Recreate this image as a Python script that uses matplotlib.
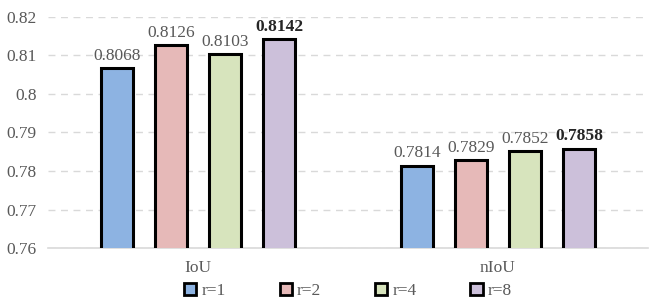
import matplotlib.pyplot as plt
import numpy as np
from matplotlib.patches import Patch

plt.rcParams['font.family'] = ['Liberation Serif', 'DejaVu Serif']

# data
categories = ['IoU', 'nIoU']
series = ['r=1', 'r=2', 'r=4', 'r=8']
values = {
    'r=1': [0.8068, 0.7814],
    'r=2': [0.8126, 0.7829],
    'r=4': [0.8103, 0.7852],
    'r=8': [0.8142, 0.7858],
}
colors = ['#8db3e2', '#e6b9b8', '#d7e4bd', '#ccc0da']
yticks = [0.76, 0.77, 0.78, 0.79, 0.80, 0.81, 0.82]
ytick_labels = ['0.76', '0.77', '0.78', '0.79', '0.8', '0.81', '0.82']

text_color = '#595959'
fs = 12.5

fig = plt.figure(figsize=(6.51, 3.08), dpi=100)
ax = fig.add_axes([48 / 651, 60 / 308, 600 / 651, 231 / 308])

x = np.arange(len(categories))
step = 0.18
width = 0.105
for i, s in enumerate(series):
    pos = x + (i - 1.5) * step
    ax.bar(pos, values[s], width, bottom=0, color=colors[i],
           edgecolor='black', linewidth=2.2, zorder=3)
    for p, v in zip(pos, values[s]):
        ax.text(p, v + 0.0011, f'{v:.4f}', ha='center', va='bottom',
                fontsize=fs, color='#262626' if s == 'r=8' else text_color,
                fontweight='bold' if s == 'r=8' else 'normal')

ax.set_xlim(-0.5, 1.5)
ax.set_ylim(0.76, 0.82)
ax.set_yticks(yticks)
ax.set_yticklabels(ytick_labels)
ax.set_xticks(x)
ax.set_xticklabels(categories)
ax.tick_params(axis='both', length=0, labelsize=fs, colors=text_color)
ax.tick_params(axis='x', pad=9)
ax.tick_params(axis='y', pad=8)
ax.grid(axis='y', color='#d9d9d9', linestyle=(0, (5, 4)), linewidth=1, zorder=0)
for side in ['top', 'right', 'left']:
    ax.spines[side].set_visible(False)
ax.spines['bottom'].set_color('#d9d9d9')
ax.spines['bottom'].set_linewidth(1.2)

handles = [Patch(facecolor=c, edgecolor='black', linewidth=2) for c in colors]
leg = fig.legend(handles, series, loc='center', bbox_to_anchor=(348 / 651, 0.055),
                 ncol=4, frameon=False, fontsize=fs, handlelength=0.7,
                 handleheight=0.7, handletextpad=0.3, columnspacing=3.1)
for t in leg.get_texts():
    t.set_color(text_color)

fig.savefig('out.png', dpi=100)
